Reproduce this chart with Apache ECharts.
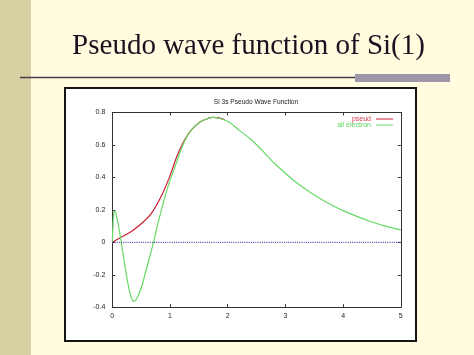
<!DOCTYPE html>
<html>
<head>
<meta charset="utf-8">
<script src="https://cdn.jsdelivr.net/npm/echarts@6/dist/echarts.min.js"></script>
<style>html,body{margin:0;padding:0;background:#FFFCE0;}#c{width:474px;height:355px;}</style>
</head>
<body>
<div id="c"></div>
<script>
// ---- data ----
var slideTitle = 'Pseudo wave function of Si(1)';
var plotTitle = 'Si 3s Pseudo Wave Function';
var seriesNames = ['pseud', 'all electron'];
var xTicks = [0, 1, 2, 3, 4, 5];
var yTicks = [-0.4, -0.2, 0, 0.2, 0.4, 0.6, 0.8];

var pseudX = [0, 0.15, 0.33, 0.5, 0.68, 0.85, 1.0, 1.12, 1.23, 1.35, 1.52, 1.65, 1.75, 1.85, 1.95];
var pseudY = [0, 0.03, 0.067, 0.114, 0.18, 0.285, 0.41, 0.53, 0.615, 0.684, 0.741, 0.762, 0.77, 0.767, 0.755];

var aeX = [0, 0.01, 0.02, 0.035, 0.05, 0.07, 0.1, 0.128, 0.155, 0.19, 0.23, 0.28, 0.32, 0.365, 0.41, 0.46, 0.52, 0.58, 0.64, 0.715, 0.78, 0.845, 0.92, 1.0, 1.08, 1.15, 1.23, 1.35, 1.52, 1.65, 1.75, 1.92, 2.04, 2.2, 2.4, 2.6, 2.8, 3.0, 3.2, 3.4, 3.6, 3.8, 4.0, 4.25, 4.5, 4.75, 5.0];
var aeY = [0, 0.09, 0.16, 0.19, 0.19, 0.165, 0.115, 0.06, 0, -0.08, -0.17, -0.27, -0.33, -0.364, -0.355, -0.32, -0.26, -0.18, -0.1, 0, 0.1, 0.19, 0.29, 0.38, 0.46, 0.53, 0.605, 0.684, 0.741, 0.762, 0.77, 0.757, 0.737, 0.69, 0.635, 0.565, 0.49, 0.425, 0.365, 0.315, 0.27, 0.23, 0.195, 0.158, 0.125, 0.098, 0.077];

var zeroX = [0, 5];
var zeroY = [0, 0];

function pairs(xs, ys) { return xs.map(function (x, i) { return [x, ys[i]]; }); }

var chart = echarts.init(document.getElementById('c'), null, {renderer: 'canvas'});
var font = 'Liberation Sans, Arial, sans-serif';

function xAxisDef(pos, showLabel) {
  return {
    type: 'value', position: pos, min: xTicks[0], max: xTicks[xTicks.length - 1], interval: 1,
    axisLine: {show: true, onZero: false, lineStyle: {color: '#333', width: 1}},
    axisTick: {show: true, inside: true, length: 3, lineStyle: {color: '#333'}},
    axisLabel: {show: showLabel, margin: 5, fontSize: 7, color: '#222', fontFamily: font},
    splitLine: {show: false}
  };
}
function yAxisDef(pos, showLabel) {
  return {
    type: 'value', position: pos, min: yTicks[0], max: yTicks[yTicks.length - 1], interval: 0.2,
    axisLine: {show: true, onZero: false, lineStyle: {color: '#333', width: 1}},
    axisTick: {show: true, inside: true, length: 3, lineStyle: {color: '#333'}},
    axisLabel: {show: showLabel, margin: 7, fontSize: 7, color: '#222', fontFamily: font},
    splitLine: {show: false}
  };
}

chart.setOption({
  backgroundColor: '#FFFCE0',
  animation: false,
  title: [
    {text: slideTitle, left: 248.5, top: 32, padding: 0, textAlign: 'center',
     textStyle: {fontFamily: 'Liberation Serif, Times New Roman, serif', fontSize: 29, fontWeight: 'normal', color: '#1E101E'}},
    {text: plotTitle, left: 256, top: 99, padding: 0, textAlign: 'center',
     textStyle: {fontFamily: font, fontSize: 6.6, fontWeight: 'normal', color: '#222'}}
  ],
  graphic: [
    {type: 'rect', shape: {x: 0, y: 0, width: 31, height: 355}, style: {fill: '#D5D1A2'}, z: -10},
    {type: 'line', shape: {x1: 20, y1: 77.5, x2: 356, y2: 77.5}, style: {stroke: '#4A3C4A', lineWidth: 1.3}, z: -9},
    {type: 'rect', shape: {x: 355, y: 74, width: 95, height: 8}, style: {fill: '#9E97A8'}, z: -9},
    {type: 'rect', shape: {x: 65, y: 88, width: 351, height: 253}, style: {fill: '#FFFFFF', stroke: '#141414', lineWidth: 2}, z: -8}
  ],
  grid: {left: 112.3, right: 73.2, top: 112.5, bottom: 47.8, containLabel: false},
  legend: {
    show: true, orient: 'vertical', right: 81, top: 115.5, align: 'right', padding: 0,
    icon: 'rect', itemWidth: 17, itemHeight: 1, itemGap: -1,
    textStyle: {fontSize: 7, lineHeight: 7, fontFamily: font, padding: [0, 0, 0, 0]},
    selectedMode: false,
    data: [
      {name: seriesNames[0], textStyle: {color: '#E23A46'}},
      {name: seriesNames[1], textStyle: {color: '#5ED45E'}}
    ]
  },
  xAxis: [xAxisDef('bottom', true), xAxisDef('top', false)],
  yAxis: [yAxisDef('left', true), yAxisDef('right', false)],
  series: [
    {name: seriesNames[0], type: 'line', data: pairs(pseudX, pseudY), showSymbol: false, smooth: 0.35,
     color: '#CC1E34', lineStyle: {color: '#CC1E34', width: 1.2}, z: 3},
    {name: seriesNames[1], type: 'line', data: pairs(aeX, aeY), showSymbol: false, smooth: 0.35,
     color: '#66DA66', lineStyle: {color: '#66DA66', width: 1.2}, z: 4},
    {name: 'zero', type: 'line', data: pairs(zeroX, zeroY), showSymbol: false,
     lineStyle: {color: '#4848A8', width: 1.2, type: [1, 1.2]}, z: 5}
  ]
});
</script>
</body>
</html>
